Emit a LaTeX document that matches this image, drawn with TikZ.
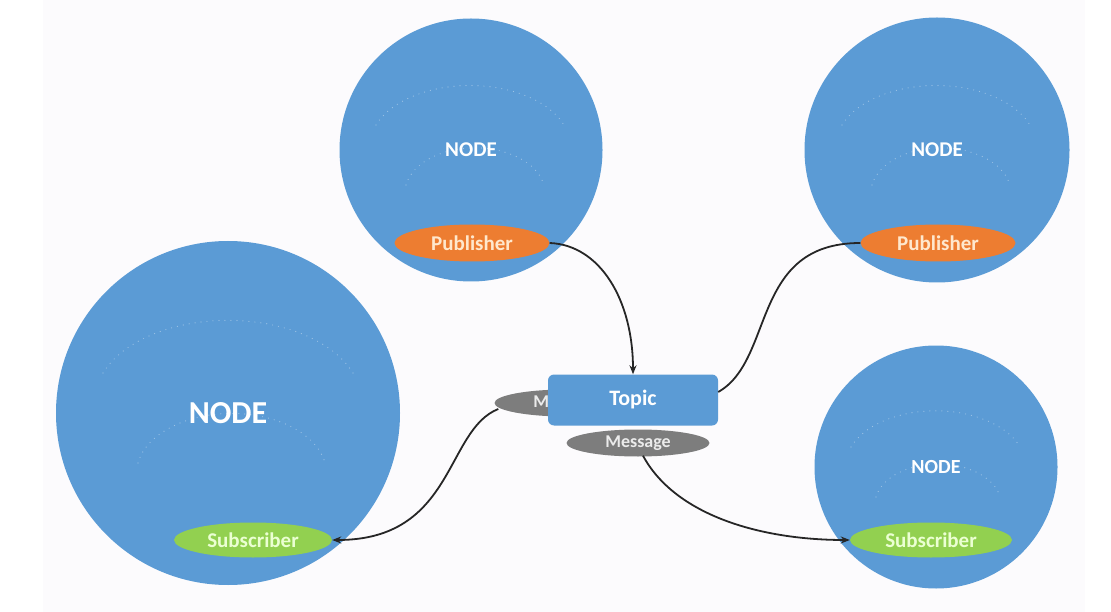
\documentclass[tikz,border=0pt]{standalone}
\usepackage{fontspec}
\setmainfont{Carlito}
\usetikzlibrary{arrows.meta,shapes.geometric}
\definecolor{rosBlue}{RGB}{91,155,213}
\definecolor{rosOrange}{RGB}{237,125,49}
\definecolor{rosGreen}{RGB}{146,208,80}
\definecolor{rosGrey}{RGB}{125,125,125}
\definecolor{pageTint}{RGB}{252,251,253}
\definecolor{pubText}{RGB}{255,232,205}
\definecolor{subText}{RGB}{235,255,210}
\tikzset{
  host/.style={circle, fill=rosBlue, text=white, inner sep=0pt},
  pub/.style={ellipse, fill=rosOrange, text=pubText, inner sep=0pt,
              minimum width=155pt, minimum height=37pt,
              font=\fontsize{21}{23}\selectfont\bfseries},
  sub/.style={ellipse, fill=rosGreen, text=subText, inner sep=0pt,
              minimum width=158pt, minimum height=35pt,
              font=\fontsize{21}{23}\selectfont\bfseries},
  msg/.style={ellipse, fill=rosGrey, text=white!92!black, inner sep=0pt,
              minimum width=143pt, minimum height=27pt,
              font=\fontsize{18}{20}\selectfont\bfseries},
  topicbox/.style={rectangle, rounded corners=6pt, fill=rosBlue, text=white,
              minimum width=170pt, minimum height=51pt, inner sep=0pt,
              font=\fontsize{22}{24}\selectfont\bfseries},
  ripple/.style={draw=white, opacity=0.4, line width=1.2pt, line cap=round,
              dash pattern=on 0pt off 6pt},
  conn/.style={draw=black!85, line width=1.8pt},
  arr/.style={conn, -{Stealth[length=9pt, width=7pt]}},
}
\begin{document}
\begin{tikzpicture}[x=1pt, y=-1pt]
\useasboundingbox (0,0) rectangle (1111,612);
\fill[pageTint] (43,0) rectangle (1085,612);

% hosts
\node[host, minimum size=263pt] (nodeA) at (471,150)
  {\fontsize{21}{23}\selectfont\bfseries NODE};
\node[host, minimum size=265pt] (nodeB) at (937,150)
  {\fontsize{21}{23}\selectfont\bfseries NODE};
\node[host, minimum size=344pt] (nodeC) at (228,413)
  {\fontsize{32}{34}\selectfont\bfseries NODE};
\node[host, minimum size=243pt] (nodeD) at (936,467)
  {\fontsize{20}{22}\selectfont\bfseries NODE};

% faint dotted rings
\draw[ripple] (nodeA.center) ++(-95,-25) arc[start angle=200, end angle=340, x radius=100, y radius=60];
\draw[ripple] (nodeA.center) ++(-65,35) arc[start angle=190, end angle=350, x radius=70, y radius=45];
\draw[ripple] (nodeB.center) ++(-95,-25) arc[start angle=200, end angle=340, x radius=100, y radius=60];
\draw[ripple] (nodeB.center) ++(-65,35) arc[start angle=190, end angle=350, x radius=70, y radius=45];
\draw[ripple] (nodeC.center) ++(-125,-40) arc[start angle=200, end angle=340, x radius=133, y radius=80];
\draw[ripple] (nodeC.center) ++(-90,50) arc[start angle=190, end angle=350, x radius=95, y radius=60];
\draw[ripple] (nodeD.center) ++(-85,-20) arc[start angle=200, end angle=340, x radius=90, y radius=55];
\draw[ripple] (nodeD.center) ++(-60,30) arc[start angle=190, end angle=350, x radius=63, y radius=40];

% publishers and subscribers
\node[pub] (pubA) at (472,243) {Publisher};
\node[pub] (pubB) at (938,243) {Publisher};
\node[sub] (subC) at (253,540) {Subscriber};
\node[sub, minimum width=162pt] (subD) at (931,540) {Subscriber};

% topic and messages
\node[msg] (msgL) at (566,403) {Message};
\node[topicbox] (topic) at (633,400) {Topic};
\node[msg] (msgB) at (638,443) {Message};

% links
\draw[arr] (pubA.east) .. controls (600,245) and (633,300) .. (topic.north);
\draw[conn] (topic.east) ++(0,-8) coordinate (tE)
  (tE) .. controls (775,360) and (750,243) .. (pubB.west);
\draw[arr] (msgL.west) ++(4,6) coordinate (mL)
  (mL) .. controls (445,430) and (455,540) .. (subC.east);
\draw[arr] (msgB.south) ++(5,-1) coordinate (mB)
  (mB) .. controls (675,515) and (760,540) .. (subD.west);
\end{tikzpicture}
\end{document}
